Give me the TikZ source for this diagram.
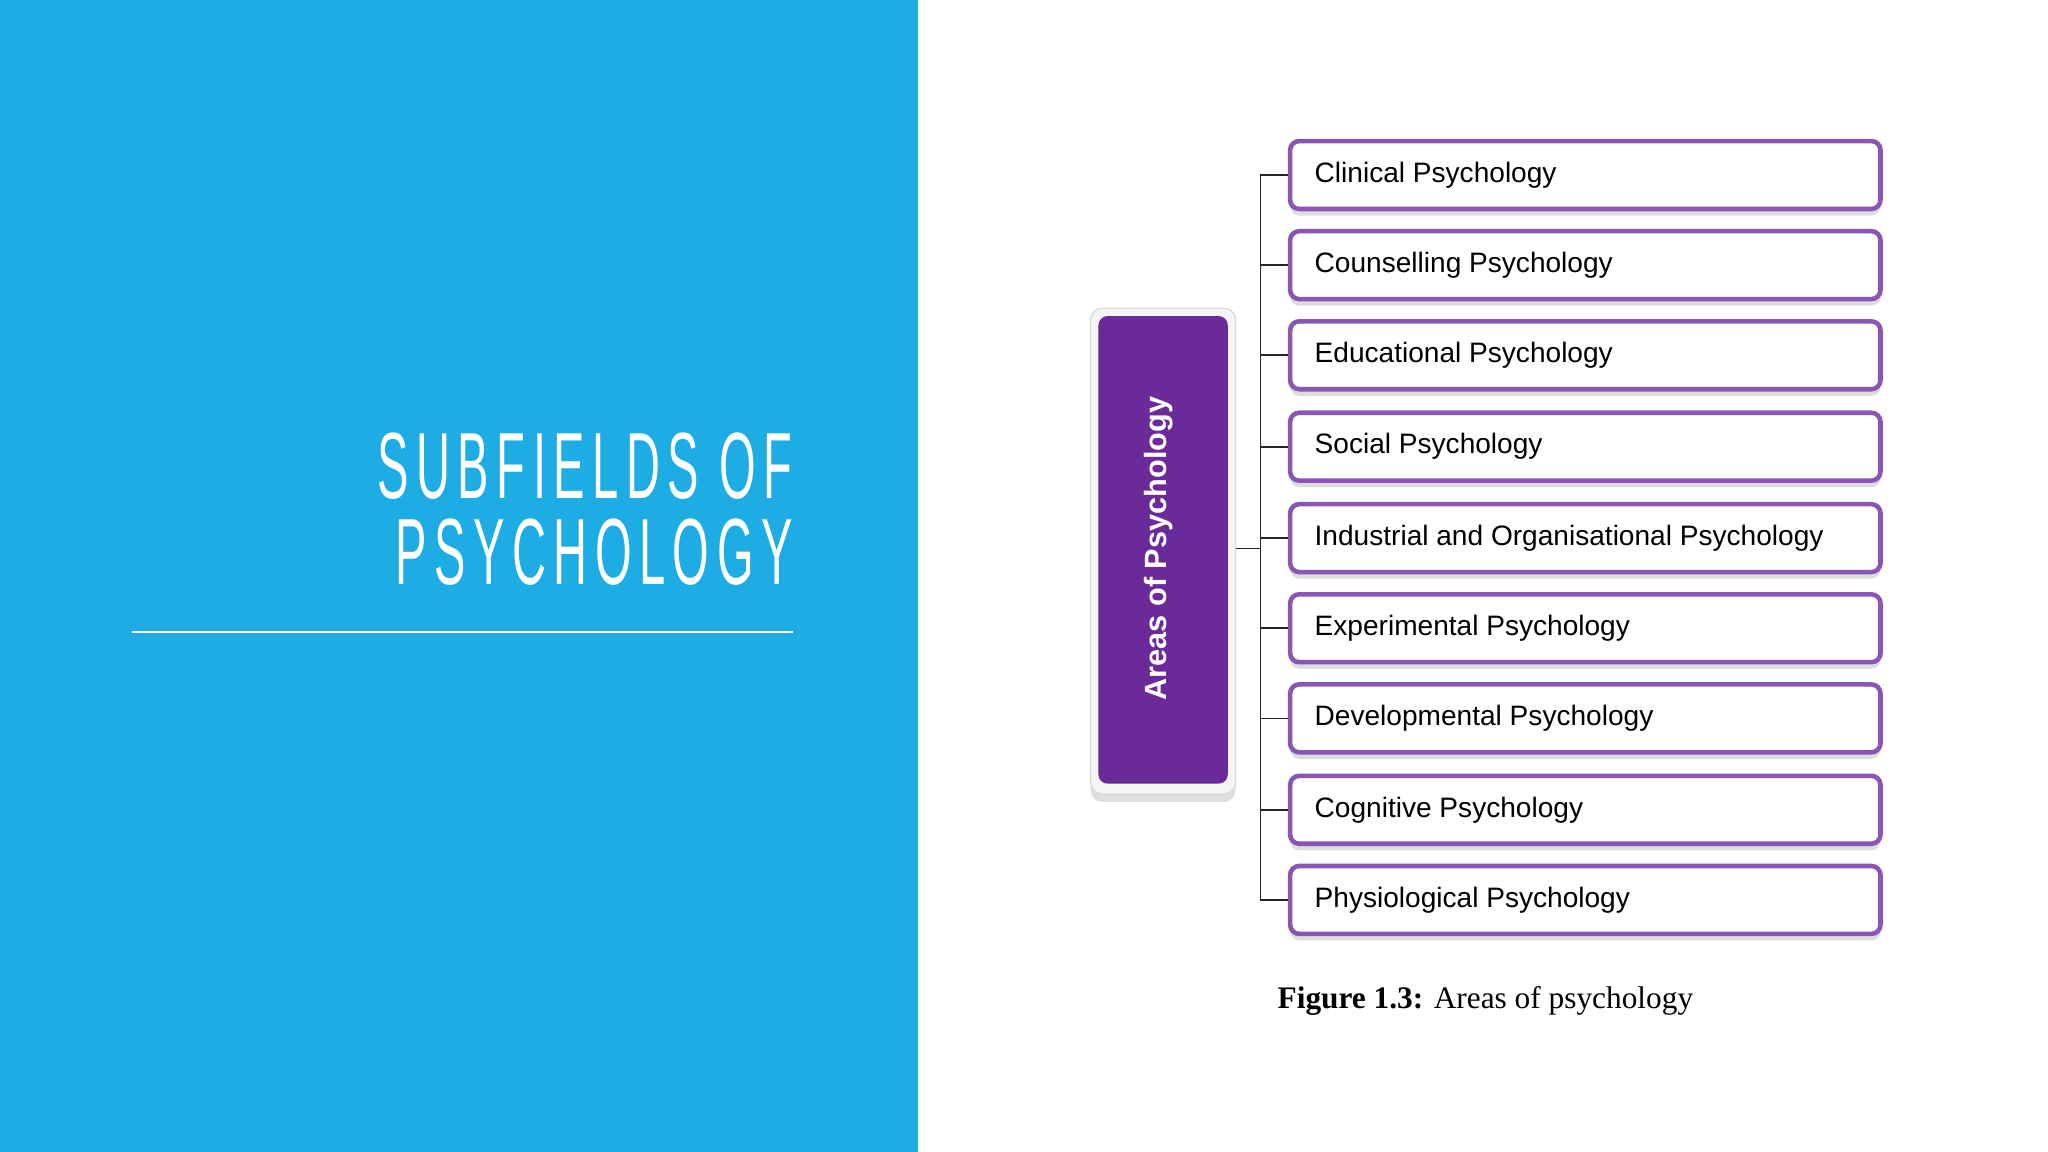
\documentclass[tikz,border=0pt]{standalone}
\usepackage{fontspec}
\setmainfont{Liberation Sans}
\newfontfamily\capfont{Liberation Serif}
\newfontfamily\titlefont[LetterSpace=16]{Liberation Sans}
\usetikzlibrary{shadows}
\definecolor{panel}{HTML}{1EACE4}
\definecolor{purp}{HTML}{6A2A9A}
\definecolor{lav}{HTML}{8A55B5}
\begin{document}
\begin{tikzpicture}[x=1pt,y=-1pt,
  area/.style={draw=lav,line width=3.5pt,fill=white,rounded corners=7pt,minimum width=452pt,minimum height=52pt,anchor=west,
     drop shadow={shadow xshift=0pt,shadow yshift=-5pt,fill=gray!45,opacity=0.6}},
  lbl/.style={anchor=west,font=\fontsize{21.5}{23}\selectfont,text=black},
  ttl/.style={anchor=east,text=white,inner sep=0pt},
  conn/.style={line width=1.3pt,black!85}]
\useasboundingbox (0,0) rectangle (1568,882);
\fill[panel] (0,0) rectangle (703,882);
\node[ttl] (title1) at (607,357) {\scalebox{0.5}[1]{\titlefont\fontsize{72}{76}\selectfont SUBFIELDS OF}};
\node[ttl] (title2) at (607,423) {\scalebox{0.5}[1]{\titlefont\fontsize{72}{76}\selectfont PSYCHOLOGY}};
\draw[white,line width=1.5pt] (101,484) -- (607,484);
% main box
\node[draw=gray!30,line width=1pt,fill=gray!8,rounded corners=9pt,minimum width=111pt,minimum height=372pt,
  drop shadow={shadow xshift=0pt,shadow yshift=-6pt,fill=gray!50,opacity=0.5}] (outer) at (890.5,422) {};
\node[fill=purp,rounded corners=7pt,minimum width=99pt,minimum height=358pt] (main) at (890.5,421) {};
\node[rotate=90,text=white,font=\bfseries\fontsize{23.5}{25}\selectfont] (mainlbl) at (887,420) {Areas of Psychology};
\coordinate (trunk) at (965,420);
\draw[conn] (outer.east |- trunk) -- (trunk);
\foreach \i/\y/\t in {1/134/Clinical Psychology,2/203/Counselling Psychology,3/272/Educational Psychology,4/342/Social Psychology,5/412/Industrial and Organisational Psychology,6/481/Experimental Psychology,7/550/Developmental Psychology,8/620/Cognitive Psychology,9/689/Physiological Psychology}{
  \node[area] (b\i) at (986,\y) {};
  \node[lbl] (t\i) at (1003,\y) {\t};
  \draw[conn] (965,\y) -- (b\i.west);
}
\draw[conn] (965,134) -- (965,689);
\node[anchor=west,font=\capfont\fontsize{24}{26}\selectfont,inner sep=0pt] (cap) at (978,766) {\textbf{Figure 1.3:} Areas of psychology};
\end{tikzpicture}
\end{document}
